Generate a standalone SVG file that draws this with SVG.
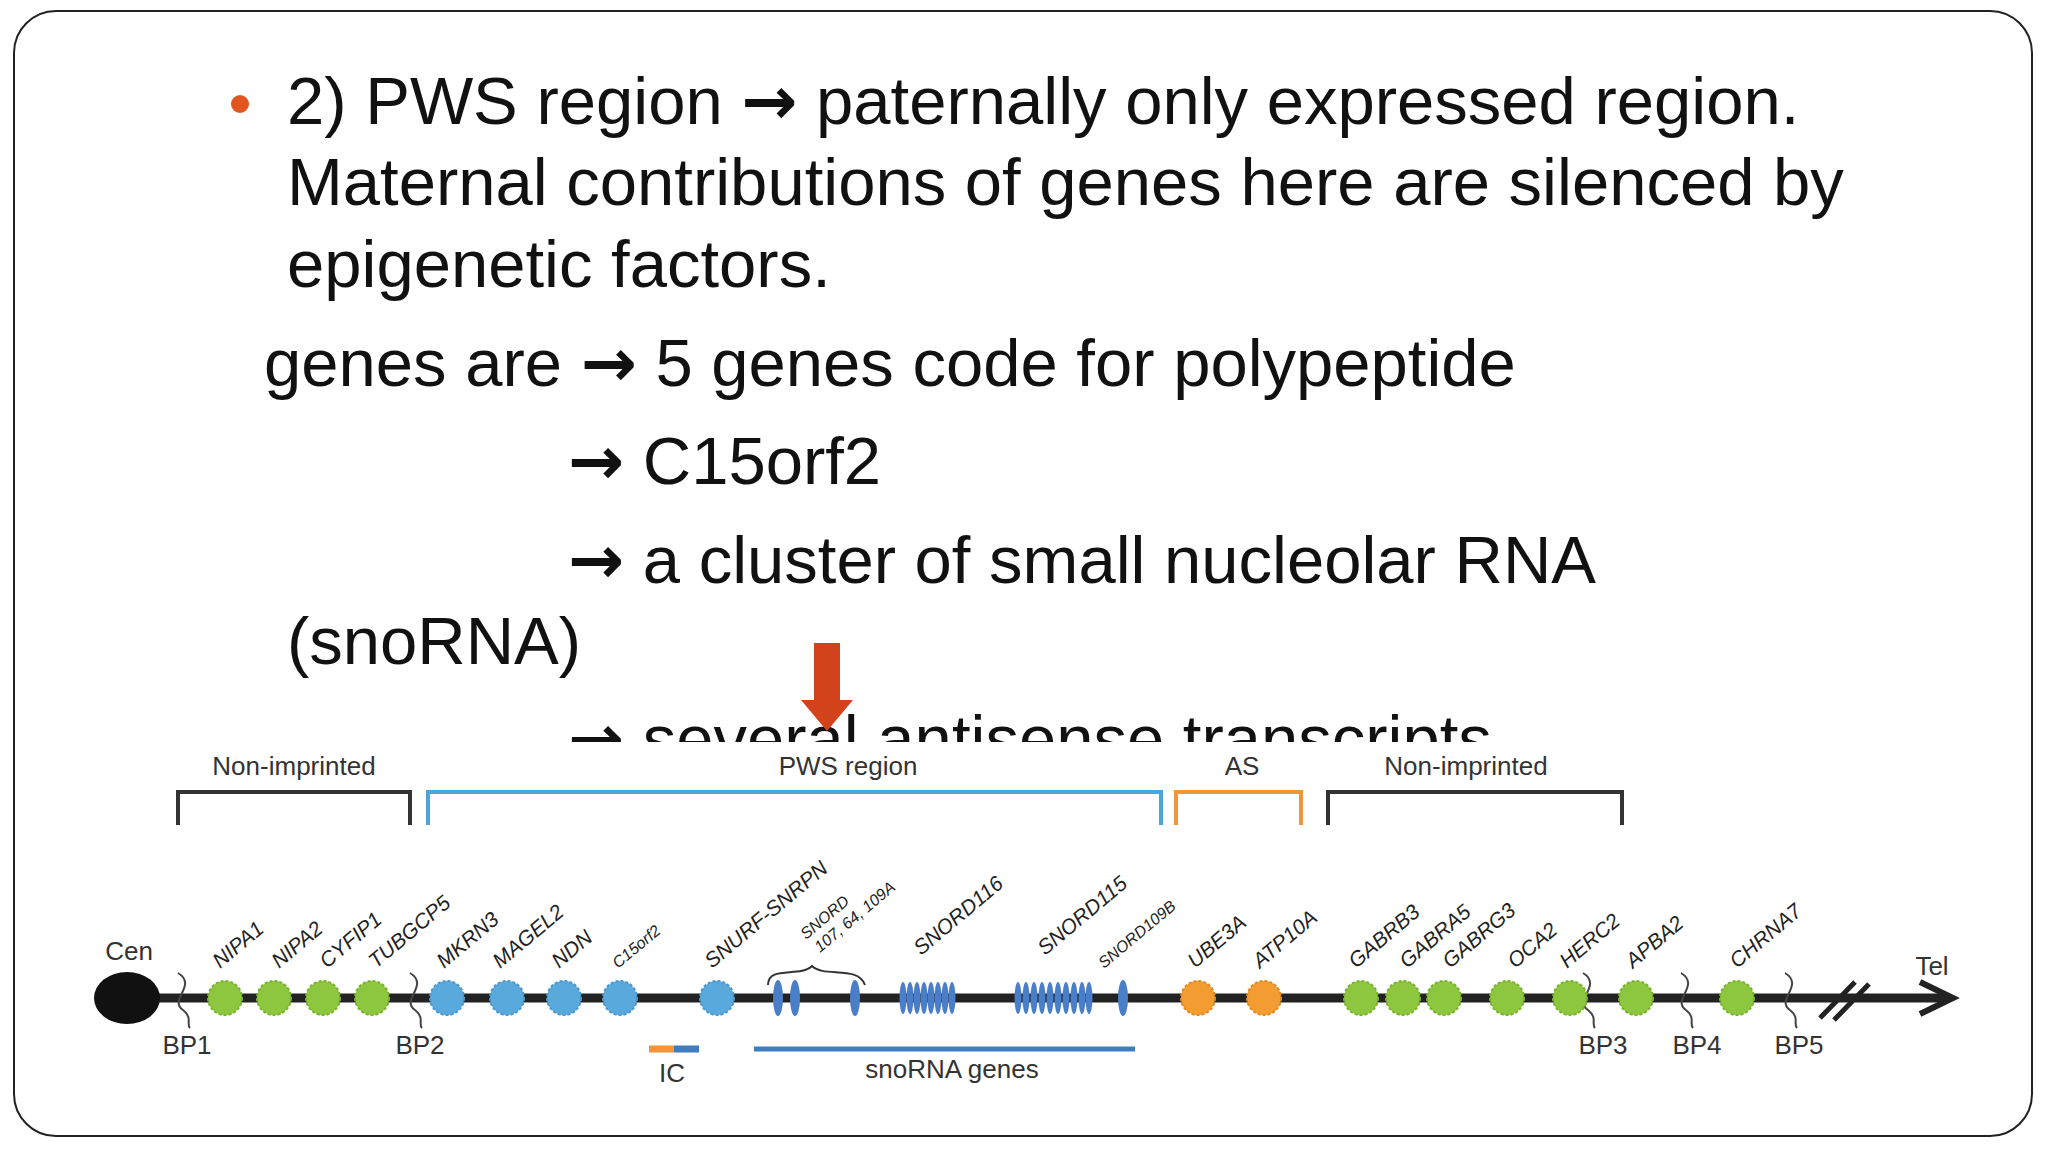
<svg xmlns="http://www.w3.org/2000/svg" width="2048" height="1152" viewBox="0 0 2048 1152">
<style>
.t{font-family:"Liberation Sans",Arial,sans-serif;font-size:67px;fill:#111}
.a{font-family:"DejaVu Sans",sans-serif;font-weight:bold}
.lb{font-family:"Liberation Sans",Arial,sans-serif;font-size:26px;fill:#333;text-anchor:middle}
.g{font-family:"Liberation Sans",Arial,sans-serif;font-size:21px;font-style:italic;fill:#222}
.gs{font-family:"Liberation Sans",Arial,sans-serif;font-size:16px;font-style:italic;fill:#222}
.gr{fill:#8dc63f;stroke:#7ab32e;stroke-width:2;stroke-dasharray:3 2}
.bl{fill:#5aa9dd;stroke:#4b98cc;stroke-width:2;stroke-dasharray:3 2}
.or{fill:#f39c32;stroke:#e08a20;stroke-width:2;stroke-dasharray:3 2}
.bar{fill:#4a7ec8}
.sq{fill:none;stroke:#444;stroke-width:2}
</style>
<rect x="0" y="0" width="2048" height="1152" fill="#fff"/>
<rect x="14" y="11" width="2018" height="1125" rx="42" fill="#fff" stroke="#222" stroke-width="2"/>
<g id="text">
<circle cx="240" cy="104" r="9" fill="#e0561e"/>
<text class="t" x="287" y="124">2) PWS region <tspan class="a">→</tspan> paternally only expressed region.</text>
<text class="t" x="287" y="205">Maternal contributions of genes here are silenced by</text>
<text class="t" x="287" y="287">epigenetic factors.</text>
<text class="t" x="264" y="386">genes are <tspan class="a">→</tspan> 5 genes code for polypeptide</text>
<text class="t" x="568" y="484"><tspan class="a">→</tspan> C15orf2</text>
<text class="t" x="568" y="583"><tspan class="a">→</tspan> a cluster of small nucleolar RNA</text>
<text class="t" x="287" y="664">(snoRNA)</text>
<text class="t" x="568" y="762"><tspan class="a">→</tspan> several antisense transcripts</text>
</g>
<rect x="40" y="742" width="1960" height="380" fill="#fff"/>
<g id="redarrow"><path d="M814 643 H840 V700 H853 L827 731 L801 700 H814 Z" fill="#d2431b"/></g>
<g id="brackets" fill="none" stroke-width="4">
<path d="M178 825 V792 H410 V825" stroke="#333"/>
<path d="M428 825 V792 H1161 V825" stroke="#4aa6dc"/>
<path d="M1176 825 V792 H1301 V825" stroke="#f0953a"/>
<path d="M1328 825 V792 H1622 V825" stroke="#333"/>
<text class="lb" x="294" y="775" stroke="none">Non-imprinted</text>
<text class="lb" x="848" y="775" stroke="none">PWS region</text>
<text class="lb" x="1242" y="775" stroke="none">AS</text>
<text class="lb" x="1466" y="775" stroke="none">Non-imprinted</text>
</g>
<g id="connectors">
<line x1="124" y1="998" x2="1950" y2="998" stroke="#222" stroke-width="9"/>
<path d="M1920 982 L1953 998 L1920 1014" fill="none" stroke="#222" stroke-width="6"/>
<path d="M1820 1018 L1855 982 M1834 1020 L1869 984" stroke="#222" stroke-width="5"/>
<path d="M1135 1049 H754" stroke="#3f7cc0" stroke-width="5"/>
<path d="M649 1049 H674" stroke="#f0953a" stroke-width="7"/>
<path d="M674 1049 H699" stroke="#3f7cc0" stroke-width="7"/>
</g>
<g id="chromosome">
<ellipse cx="127" cy="998" rx="33" ry="26" fill="#111"/>
<text class="lb" x="129" y="960" fill="#222">Cen</text>
<text class="lb" x="1932" y="975" fill="#222">Tel</text>
<g id="bp">
<path class="sq" d="M178 973 C198 985,168 1000,183 1010 C193 1018,186 1024,190 1028"/>
<path class="sq" d="M410 973 C430 985,400 1000,415 1010 C425 1018,418 1024,422 1028"/>
<path class="sq" d="M1583 973 C1603 985,1573 1000,1588 1010 C1598 1018,1591 1024,1595 1028"/>
<path class="sq" d="M1681 973 C1701 985,1671 1000,1686 1010 C1696 1018,1689 1024,1693 1028"/>
<path class="sq" d="M1785 973 C1805 985,1775 1000,1790 1010 C1800 1018,1793 1024,1797 1028"/>
<text class="lb" x="187" y="1054" fill="#222">BP1</text>
<text class="lb" x="420" y="1054" fill="#222">BP2</text>
<text class="lb" x="1603" y="1054" fill="#222">BP3</text>
<text class="lb" x="1697" y="1054" fill="#222">BP4</text>
<text class="lb" x="1799" y="1054" fill="#222">BP5</text>
<text class="lb" x="672" y="1082" fill="#222">IC</text>
<text class="lb" x="952" y="1078" fill="#3f7cc0">snoRNA genes</text>
</g>
<g id="genes">
<circle class="gr" cx="225" cy="998" r="17"/><circle class="gr" cx="274" cy="998" r="17"/><circle class="gr" cx="323" cy="998" r="17"/><circle class="gr" cx="372" cy="998" r="17"/>
<circle class="bl" cx="447" cy="998" r="17"/><circle class="bl" cx="507" cy="998" r="17"/><circle class="bl" cx="564" cy="998" r="17"/><circle class="bl" cx="620" cy="998" r="17"/><circle class="bl" cx="717" cy="998" r="17"/>
<ellipse class="bar" cx="778" cy="998" rx="5" ry="18"/><ellipse class="bar" cx="795" cy="998" rx="5" ry="18"/><ellipse class="bar" cx="855" cy="998" rx="5" ry="18"/>
<path d="M768 985 C768 965,800 978,812 966 C824 978,858 965,865 985" fill="none" stroke="#333" stroke-width="2"/>
<g class="bar">
<ellipse cx="903" cy="998" rx="3.5" ry="16"/><ellipse cx="910" cy="998" rx="3.5" ry="16"/><ellipse cx="917" cy="998" rx="3.5" ry="16"/><ellipse cx="924" cy="998" rx="3.5" ry="16"/><ellipse cx="931" cy="998" rx="3.5" ry="16"/><ellipse cx="938" cy="998" rx="3.5" ry="16"/><ellipse cx="945" cy="998" rx="3.5" ry="16"/><ellipse cx="952" cy="998" rx="3.5" ry="16"/>
<ellipse cx="1018" cy="998" rx="3.5" ry="16"/><ellipse cx="1026" cy="998" rx="3.5" ry="16"/><ellipse cx="1034" cy="998" rx="3.5" ry="16"/><ellipse cx="1042" cy="998" rx="3.5" ry="16"/><ellipse cx="1050" cy="998" rx="3.5" ry="16"/><ellipse cx="1058" cy="998" rx="3.5" ry="16"/><ellipse cx="1066" cy="998" rx="3.5" ry="16"/><ellipse cx="1074" cy="998" rx="3.5" ry="16"/><ellipse cx="1082" cy="998" rx="3.5" ry="16"/><ellipse cx="1089" cy="998" rx="3.5" ry="16"/>
<ellipse cx="1123" cy="998" rx="5" ry="18"/>
</g>
<circle class="or" cx="1198" cy="998" r="17"/><circle class="or" cx="1264" cy="998" r="17"/>
<circle class="gr" cx="1361" cy="998" r="17"/><circle class="gr" cx="1403" cy="998" r="17"/><circle class="gr" cx="1444" cy="998" r="17"/><circle class="gr" cx="1507" cy="998" r="17"/><circle class="gr" cx="1570" cy="998" r="17"/><circle class="gr" cx="1636" cy="998" r="17"/><circle class="gr" cx="1737" cy="998" r="17"/>
</g>
<g id="genelabels">
<text class="g" transform="translate(220,969) rotate(-40)">NIPA1</text>
<text class="g" transform="translate(279,969) rotate(-40)">NIPA2</text>
<text class="g" transform="translate(327,969) rotate(-40)">CYFIP1</text>
<text class="g" transform="translate(376,969) rotate(-40)">TUBGCP5</text>
<text class="g" transform="translate(444,969) rotate(-40)">MKRN3</text>
<text class="g" transform="translate(500,969) rotate(-40)">MAGEL2</text>
<text class="g" transform="translate(559,969) rotate(-40)">NDN</text>
<text class="gs" transform="translate(618,969) rotate(-40)">C15orf2</text>
<text class="g" transform="translate(712,969) rotate(-40)">SNURF-SNRPN</text>
<text class="gs" transform="translate(806,940) rotate(-40)">SNORD</text>
<text class="gs" transform="translate(820,953) rotate(-40)">107, 64, 109A</text>
<text class="g" transform="translate(921,956) rotate(-40)">SNORD116</text>
<text class="g" transform="translate(1045,956) rotate(-40)">SNORD115</text>
<text class="gs" transform="translate(1104,969) rotate(-40)">SNORD109B</text>
<text class="g" transform="translate(1195,969) rotate(-40)">UBE3A</text>
<text class="g" transform="translate(1260,969) rotate(-40)">ATP10A</text>
<text class="g" transform="translate(1356,969) rotate(-40)">GABRB3</text>
<text class="g" transform="translate(1407,969) rotate(-40)">GABRA5</text>
<text class="g" transform="translate(1450,969) rotate(-40)">GABRG3</text>
<text class="g" transform="translate(1515,969) rotate(-40)">OCA2</text>
<text class="g" transform="translate(1567,969) rotate(-40)">HERC2</text>
<text class="g" transform="translate(1633,969) rotate(-40)">APBA2</text>
<text class="g" transform="translate(1737,969) rotate(-40)">CHRNA7</text>
</g>
</g>
</svg>
